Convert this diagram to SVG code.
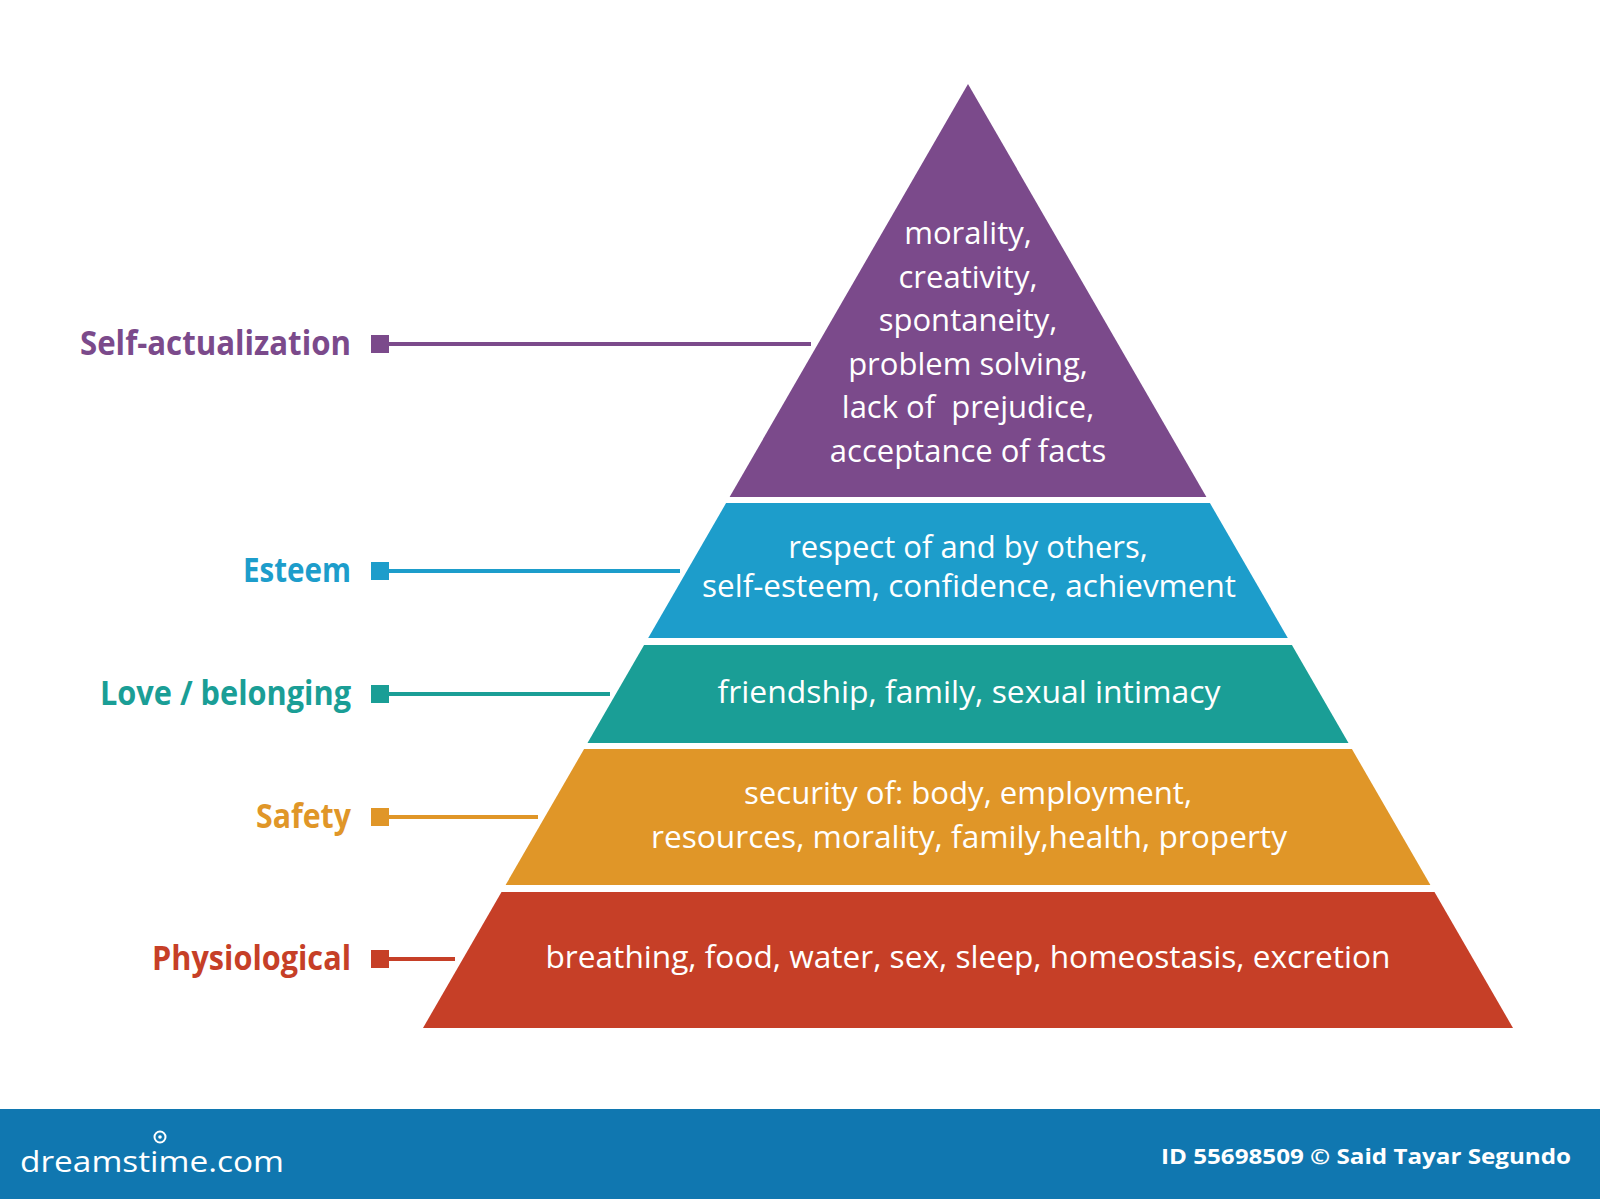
<svg xmlns="http://www.w3.org/2000/svg" width="1600" height="1199" viewBox="0 0 1600 1199">
  <style>
    .tier-text { font-family: "Open Sans", "Noto Sans", "Liberation Sans", sans-serif; font-size: 31px; fill: #ffffff; text-anchor: middle; white-space: pre; }
    .label { font-family: "Open Sans", "Liberation Sans", sans-serif; font-weight: bold; font-size: 34px; text-anchor: end; }
    .c-purple { fill: #7B4A8B; }
    .c-blue { fill: #1D9DCB; }
    .c-teal { fill: #1A9E96; }
    .c-orange { fill: #E09628; }
    .c-red { fill: #C63F27; }
    .s-purple { stroke: #7B4A8B; }
    .s-blue { stroke: #1D9DCB; }
    .s-teal { stroke: #1A9E96; }
    .s-orange { stroke: #E09628; }
    .s-red { stroke: #C63F27; }
    .conn { stroke-width: 4; fill: none; }
    .footer-text { font-family: "Open Sans", "Liberation Sans", sans-serif; fill: #ffffff; }
  </style>
  <rect width="1600" height="1199" fill="#ffffff"/>

  <g id="tier-self-actualization">
    <polygon class="c-purple" points="968,84 1206.4,497 729.6,497"/>
    <text class="tier-text" x="968" y="244">morality,</text>
    <text class="tier-text" x="968" y="288">creativity,</text>
    <text class="tier-text" x="968" y="331">spontaneity,</text>
    <text class="tier-text" x="968" y="375">problem solving,</text>
    <text class="tier-text" x="968" y="418" xml:space="preserve">lack of  prejudice,</text>
    <text class="tier-text" x="968" y="462">acceptance of facts</text>
  </g>

  <g id="tier-esteem">
    <polygon class="c-blue" points="726.1,503 1209.9,503 1287.8,638 648.2,638"/>
    <text class="tier-text" x="968" y="558">respect of and by others,</text>
    <text class="tier-text" x="969" y="597" textLength="534" lengthAdjust="spacingAndGlyphs">self-esteem, confidence, achievment</text>
  </g>

  <g id="tier-love">
    <polygon class="c-teal" points="644.1,645 1291.9,645 1348.5,743 587.5,743"/>
    <text class="tier-text" x="969" y="703" textLength="503" lengthAdjust="spacingAndGlyphs">friendship, family, sexual intimacy</text>
  </g>

  <g id="tier-safety">
    <polygon class="c-orange" points="584.1,749 1351.9,749 1430.4,885 505.6,885"/>
    <text class="tier-text" x="968" y="804" textLength="448" lengthAdjust="spacingAndGlyphs">security of: body, employment,</text>
    <text class="tier-text" x="969" y="848" textLength="636" lengthAdjust="spacingAndGlyphs">resources, morality, family,health, property</text>
  </g>

  <g id="tier-physiological">
    <polygon class="c-red" points="501.5,892 1434.5,892 1513,1028 423,1028"/>
    <text class="tier-text" x="968" y="968" textLength="845" lengthAdjust="spacingAndGlyphs">breathing, food, water, sex, sleep, homeostasis, excretion</text>
  </g>

  <g id="label-self-actualization">
    <text class="label c-purple" x="351" y="355" textLength="271" lengthAdjust="spacingAndGlyphs">Self-actualization</text>
  </g>
  <g id="label-esteem">
    <text class="label c-blue" x="351" y="582" textLength="108" lengthAdjust="spacingAndGlyphs">Esteem</text>
  </g>
  <g id="label-love">
    <text class="label c-teal" x="351" y="705" textLength="251" lengthAdjust="spacingAndGlyphs">Love / belonging</text>
  </g>
  <g id="label-safety">
    <text class="label c-orange" x="351" y="828" textLength="95" lengthAdjust="spacingAndGlyphs">Safety</text>
  </g>
  <g id="label-physiological">
    <text class="label c-red" x="351" y="970" textLength="199" lengthAdjust="spacingAndGlyphs">Physiological</text>
  </g>

  <g id="connectors">
    <rect class="c-purple" x="371" y="335" width="18" height="18"/>
    <line class="conn s-purple" x1="389" y1="344" x2="811" y2="344"/>
    <rect class="c-blue" x="371" y="562" width="18" height="18"/>
    <line class="conn s-blue" x1="389" y1="571" x2="680" y2="571"/>
    <rect class="c-teal" x="371" y="685" width="18" height="18"/>
    <line class="conn s-teal" x1="389" y1="694" x2="610" y2="694"/>
    <rect class="c-orange" x="371" y="808" width="18" height="18"/>
    <line class="conn s-orange" x1="389" y1="817" x2="538" y2="817"/>
    <rect class="c-red" x="371" y="950" width="18" height="18"/>
    <line class="conn s-red" x1="389" y1="959" x2="455" y2="959"/>
  </g>

  <g id="footer">
    <rect x="0" y="1109" width="1600" height="90" fill="#1077B0"/>
    <circle cx="160" cy="1137" r="5.5" fill="none" stroke="#ffffff" stroke-width="2"/>
    <circle cx="160" cy="1137" r="1.8" fill="#ffffff"/>
    <text class="footer-text" x="20" y="1172" font-size="30" textLength="264" lengthAdjust="spacingAndGlyphs">dreamstime.com</text>
    <text class="footer-text" x="1571" y="1164" font-size="22" font-weight="bold" text-anchor="end" textLength="410" lengthAdjust="spacingAndGlyphs">ID 55698509 © Said Tayar Segundo</text>
  </g>
</svg>
